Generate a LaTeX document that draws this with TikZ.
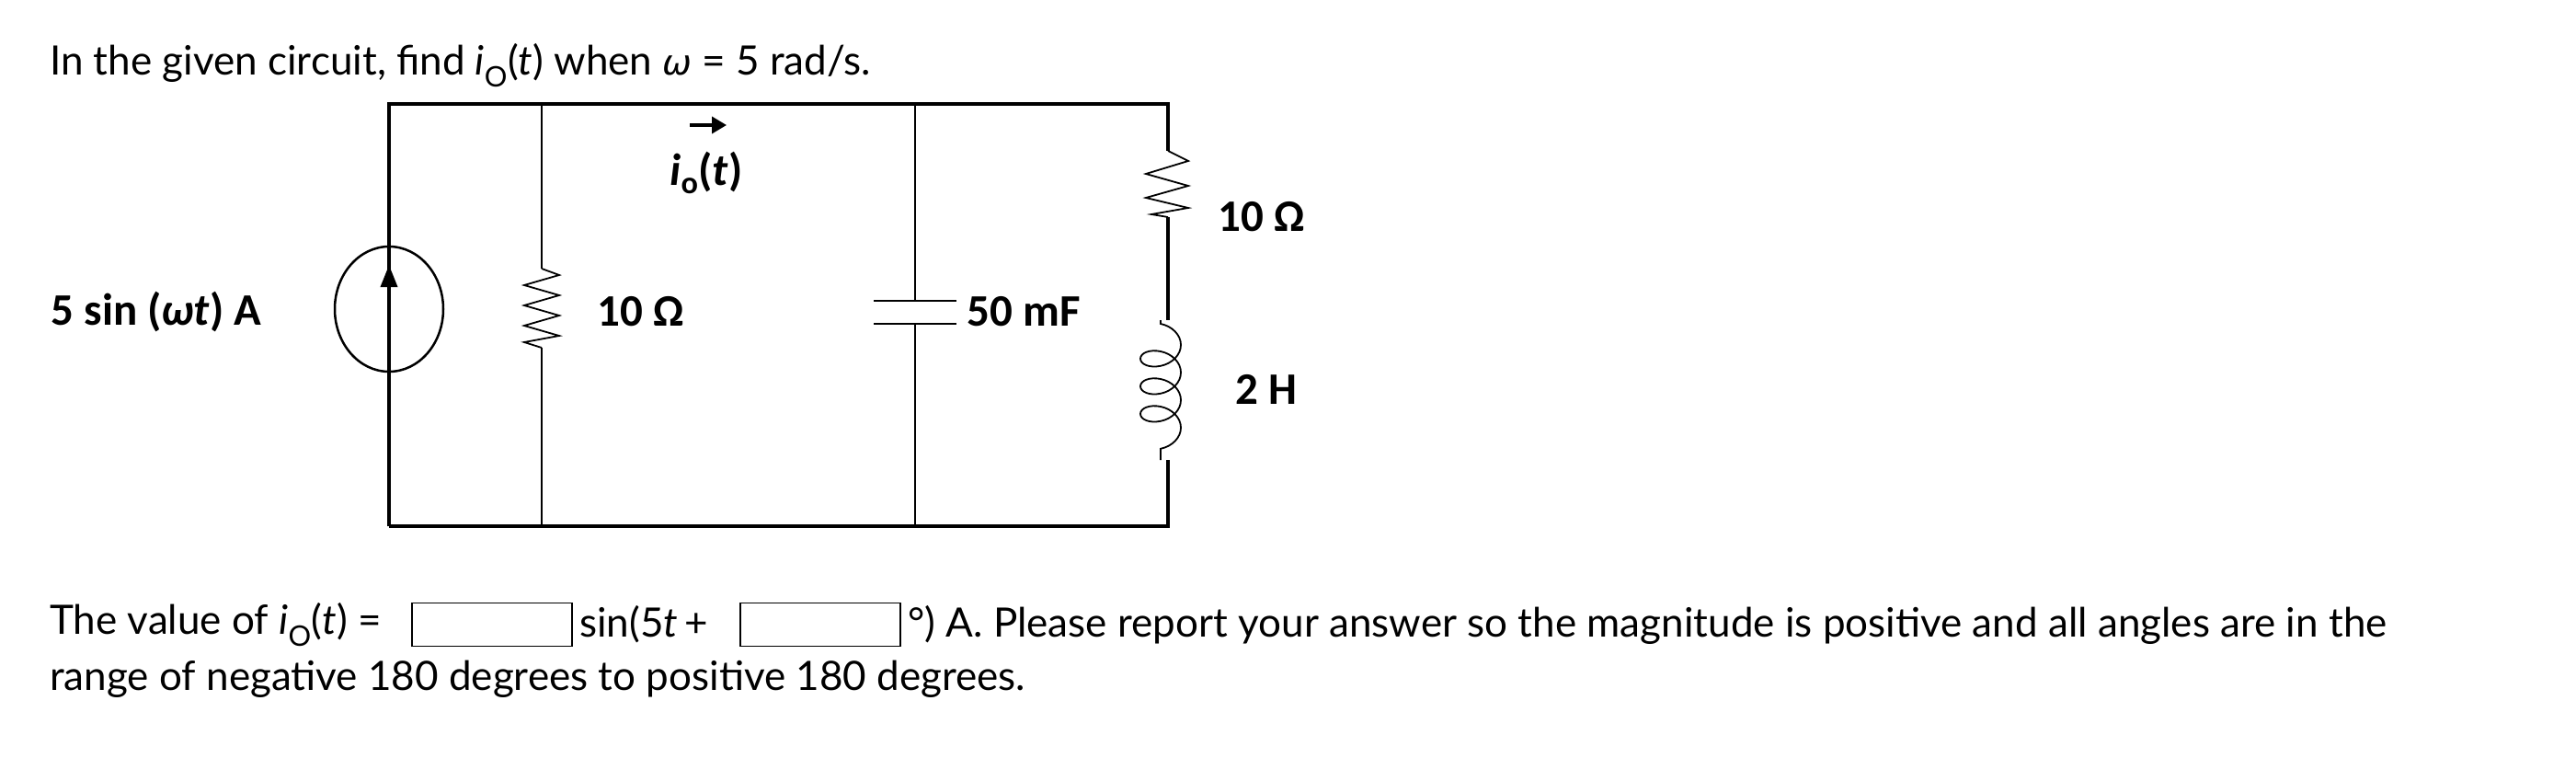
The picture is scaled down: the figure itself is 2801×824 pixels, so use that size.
\documentclass[tikz,border=0pt]{standalone}
\usepackage{fontspec}
\setmainfont{Lato}
\newfontfamily\carl{Carlito}
\newfontfamily\dvs{DejaVu Sans}
\usetikzlibrary{decorations.pathmorphing,arrows.meta,shapes.geometric}
\begin{document}
\begin{tikzpicture}[x=1pt,y=-1pt,
  wire/.style={line width=3.5pt},
  thin/.style={line width=1.8pt},
  lab/.style={font=\carl\bfseries\fontsize{49}{54}\selectfont},
  txt/.style={font=\fontsize{44}{52}\selectfont,anchor=west,inner sep=0},
  box/.style={draw,line width=1.5pt,minimum width=174pt,minimum height=47pt,inner sep=0}]
\useasboundingbox (0,0) rectangle (2801,824);
\node[txt] (title) at (54,71) {In the given circuit, find \textit{i}\textsubscript{O}(\textit{t}) when {\dvs\itshape\fontsize{38}{46}\selectfont ω} = 5 rad/s.};
% corners
\coordinate (TL) at (423,113); \coordinate (TR) at (1270,113);
\coordinate (BL) at (423,572); \coordinate (BR) at (1270,572);
\coordinate (T1) at (589,113); \coordinate (B1) at (589,572);
\coordinate (T2) at (995,113); \coordinate (B2) at (995,572);
\draw[wire] (BL) -- (TL) -- (TR) -- (1270,164);
\draw[wire] (BL) -- (BR) -- (1270,500);
\draw[wire] (1270,236) -- (1270,348);
% current source
\node[draw,ellipse,line width=2.5pt,minimum width=118pt,minimum height=136pt,inner sep=0] (src) at (423,336) {};
\draw[thin] (TL) -- (src.north);
\draw[thin] (src.south) -- (BL);
\coordinate (sa) at (423,385); \coordinate (sb) at (423,288);
\draw[line width=3.5pt,-{Triangle[length=24pt,width=18pt]}] (sa) -- (sb);
% resistor 1
\coordinate (r1a) at (589,292); \coordinate (r1b) at (589,378);
\draw[thin] (T1) -- (r1a);
\draw[thin] (r1a) -- (608,299) -- (570,310) -- (608,321) -- (570,332) -- (608,343) -- (570,354) -- (608,365) -- (570,372) -- (r1b);
\draw[thin] (r1b) -- (B1);
% capacitor
\coordinate (c1) at (995,327); \coordinate (c2) at (995,352);
\draw[thin] (T2) -- (c1); \draw[thin] (c2) -- (B2);
\draw[line width=2.5pt] (950,327) -- (1040,327);
\draw[line width=2.5pt] (950,352) -- (1040,352);
% resistor 2
\draw[line width=1.8pt] (1270,164) -- (1292,175) -- (1246,189) -- (1292,202) -- (1246,215) -- (1292,226) -- (1252,233) -- (1270,236);
% inductor
\draw[line width=1.8pt,decorate,decoration={coil,aspect=0.7,segment length=30pt,amplitude=22pt,pre length=4pt,post length=4pt}] (1262,348) -- (1262,500);
% labels
\node[lab] (ls) at (170,339) {5 sin (\textit{ωt}) A};
\node[lab] (lr1) at (697,339) {10 Ω};
\node[lab] (lc) at (1113,339) {50 mF};
\node[lab] (lr2) at (1372,236) {10 Ω};
\node[lab] (ll) at (1377,423) {2 H};
\node[lab] (li) at (768,188) {\textit{i}\textsubscript{o}(\textit{t})};
\coordinate (ia) at (750,136); \coordinate (ib) at (790,136);
\draw[line width=3.5pt,-{Triangle[length=16pt,width=18pt]}] (ia) -- (ib);
% bottom text
\node[txt] (l1) at (54,679) {The value of \textit{i}\textsubscript{O}(\textit{t}) =};
\node[box] (b1) at (535,679) {};
\node[txt,anchor=west] (l2) at (b1.east) {\,sin(5\textit{t}\,+};
\node[box] (b2) at (892,679) {};
\node[txt,anchor=west] (l3) at (b2.east) {\,°) A. Please report your answer so the magnitude is positive and all angles are in the};
\node[txt] (l4) at (54,738) {range of negative 180 degrees to positive 180 degrees.};
\end{tikzpicture}
\end{document}
